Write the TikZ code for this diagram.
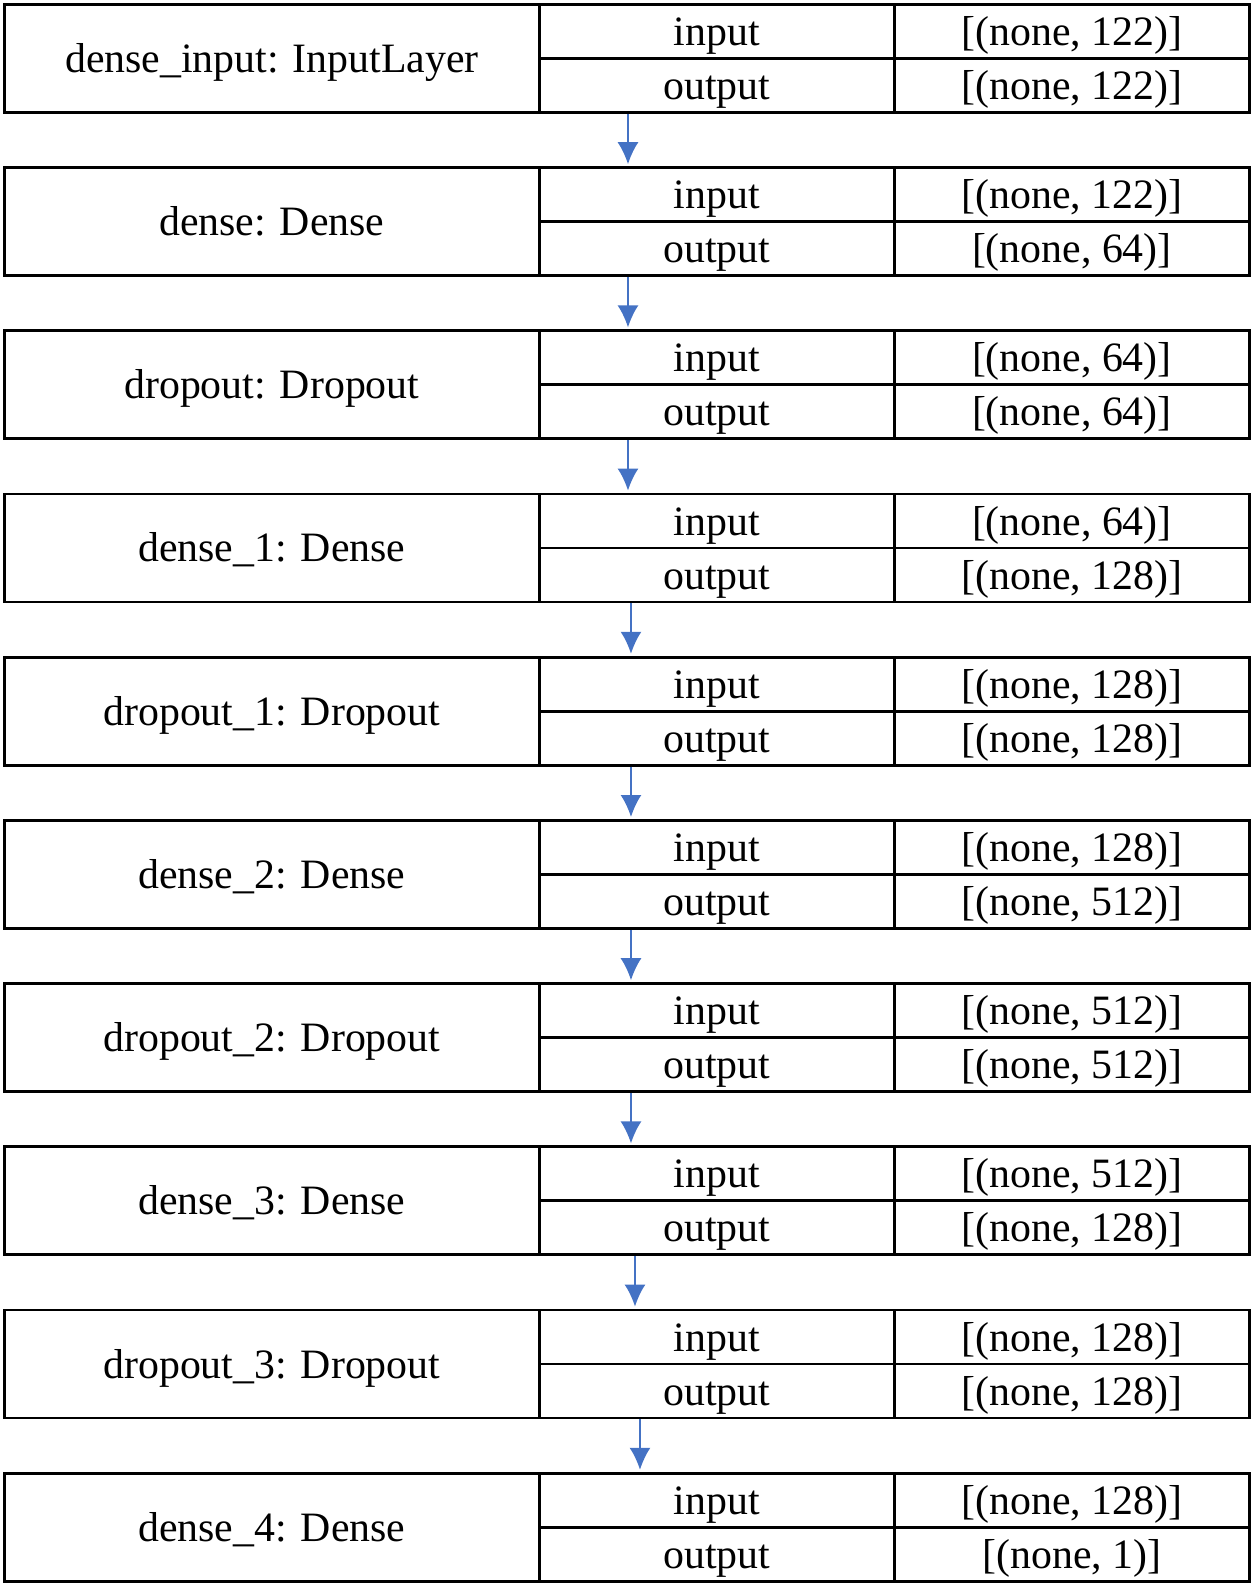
\documentclass[tikz,border=0pt]{standalone}
\usepackage{fontspec}
\setmainfont{Liberation Serif}
\usetikzlibrary{arrows.meta}
\definecolor{flowblue}{RGB}{68,114,196}
\begin{document}
\begin{tikzpicture}[x=0.02cm, y=-0.02cm,
    cell/.style={draw, line width=1.6pt, anchor=north west, inner sep=0pt,
      minimum height=1.08cm, text height=0.66cm, text depth=0.1cm,
      font=\fontsize{23.8}{28}\selectfont},
    layerbox/.style={cell, minimum width=10.7cm, minimum height=2.16cm},
    portbox/.style={cell, minimum width=7.1cm},
    dimbox/.style={cell, minimum width=7.1cm},
    flow/.style={-{Latex[length=0.44cm,width=0.42cm]}, line width=1.1pt,
      color=flowblue, shorten >=0.04cm}]
  \useasboundingbox (0,0) rectangle (1255,1585);

  % Draw the layer blocks
  \foreach \n/\lab/\a/\b in {0/{dense\_input: InputLayer}/122/122,
      1/{dense: Dense}/122/64,
      2/{dropout: Dropout}/64/64,
      3/{dense\_1: Dense}/64/128,
      4/{dropout\_1: Dropout}/128/128,
      5/{dense\_2: Dense}/128/512,
      6/{dropout\_2: Dropout}/512/512,
      7/{dense\_3: Dense}/512/128,
      8/{dropout\_3: Dropout}/128/128,
      9/{dense\_4: Dense}/128/1} {
    \node[layerbox] (l\n) at (3,{3+163.2*\n}) {\lab};
    \node[portbox] (i\n) at (538,{3+163.2*\n}) {input};
    \node[portbox] (o\n) at (538,{57+163.2*\n}) {output};
    \node[dimbox] (a\n) at (893,{3+163.2*\n}) {[(none, \a)]};
    \node[dimbox] (b\n) at (893,{57+163.2*\n}) {[(none, \b)]};
  }

  % Arrows between the blocks
  \foreach \n/\dx in {0/1.8, 1/1.8, 2/1.8, 3/1.86, 4/1.86, 5/1.86, 6/1.86, 7/1.94, 8/2.04} {
    \pgfmathtruncatemacro\m{\n+1}
    \draw[flow] ([xshift=\dx cm]o\n.south west) -- ([xshift=\dx cm]i\m.north west);
  }
\end{tikzpicture}
\end{document}
